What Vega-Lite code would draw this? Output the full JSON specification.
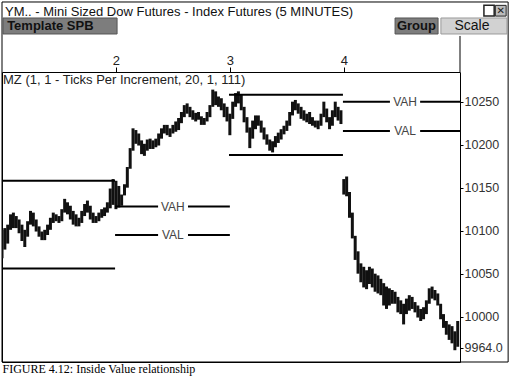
{
  "$schema": "https://vega.github.io/schema/vega-lite/v6.json",
  "width": 458,
  "height": 290,
  "autosize": {"type": "none"},
  "padding": {"left": 2, "top": 72, "right": 62, "bottom": 20},
  "background": "white",
  "config": {"view": {"stroke": "black", "strokeWidth": 1}},
  "datasets": {
    "bars": [
      {"i":0,"h":10101,"l":10068},{"i":1,"h":10103,"l":10078},{"i":2,"h":10107,"l":10085},{"i":3,"h":10119,"l":10101},{"i":4,"h":10121,"l":10103},
      {"i":5,"h":10117,"l":10103},{"i":6,"h":10113,"l":10097},{"i":7,"h":10107,"l":10088},{"i":8,"h":10101,"l":10081},{"i":9,"h":10111,"l":10093},
      {"i":10,"h":10123,"l":10107},{"i":11,"h":10121,"l":10105},{"i":12,"h":10113,"l":10099},{"i":13,"h":10105,"l":10093},{"i":14,"h":10099,"l":10089},
      {"i":15,"h":10101,"l":10089},{"i":16,"h":10107,"l":10095},{"i":17,"h":10115,"l":10101},{"i":18,"h":10121,"l":10109},{"i":19,"h":10119,"l":10111},
      {"i":20,"h":10117,"l":10109},{"i":21,"h":10125,"l":10111},{"i":22,"h":10137,"l":10121},{"i":23,"h":10133,"l":10119},{"i":24,"h":10129,"l":10113},
      {"i":25,"h":10123,"l":10107},{"i":26,"h":10119,"l":10105},{"i":27,"h":10115,"l":10105},{"i":28,"h":10123,"l":10109},{"i":29,"h":10131,"l":10117},
      {"i":30,"h":10135,"l":10121},{"i":31,"h":10129,"l":10113},{"i":32,"h":10121,"l":10109},{"i":33,"h":10117,"l":10109},{"i":34,"h":10121,"l":10111},
      {"i":35,"h":10125,"l":10115},{"i":36,"h":10127,"l":10117},{"i":37,"h":10133,"l":10121},{"i":38,"h":10149,"l":10126},{"i":39,"h":10160,"l":10130},
      {"i":40,"h":10158,"l":10125},{"i":41,"h":10152,"l":10127},{"i":42,"h":10142,"l":10129},{"i":43,"h":10154,"l":10141},{"i":44,"h":10174,"l":10150},
      {"i":45,"h":10196,"l":10172},{"i":46,"h":10219,"l":10193},{"i":47,"h":10217,"l":10201},{"i":48,"h":10213,"l":10199},{"i":49,"h":10205,"l":10189},
      {"i":50,"h":10201,"l":10187},{"i":51,"h":10206,"l":10193},{"i":52,"h":10207,"l":10195},{"i":53,"h":10205,"l":10195},{"i":54,"h":10207,"l":10197},
      {"i":55,"h":10213,"l":10199},{"i":56,"h":10219,"l":10207},{"i":57,"h":10223,"l":10213},{"i":58,"h":10223,"l":10211},{"i":59,"h":10219,"l":10209},
      {"i":60,"h":10223,"l":10213},{"i":61,"h":10227,"l":10215},{"i":62,"h":10231,"l":10217},{"i":63,"h":10238,"l":10225},{"i":64,"h":10246,"l":10232},
      {"i":65,"h":10248,"l":10236},{"i":66,"h":10244,"l":10232},{"i":67,"h":10240,"l":10229},{"i":68,"h":10237,"l":10227},{"i":69,"h":10238,"l":10229},
      {"i":70,"h":10233,"l":10223},{"i":71,"h":10231,"l":10223},{"i":72,"h":10238,"l":10227},{"i":73,"h":10246,"l":10232},{"i":74,"h":10264,"l":10244},
      {"i":75,"h":10262,"l":10246},{"i":76,"h":10256,"l":10244},{"i":77,"h":10254,"l":10240},{"i":78,"h":10248,"l":10232},{"i":79,"h":10244,"l":10227},
      {"i":80,"h":10236,"l":10211},{"i":81,"h":10250,"l":10230},{"i":82,"h":10260,"l":10244},{"i":83,"h":10262,"l":10248},{"i":84,"h":10258,"l":10240},
      {"i":85,"h":10244,"l":10226},{"i":86,"h":10232,"l":10214},{"i":87,"h":10220,"l":10196},{"i":88,"h":10228,"l":10207},{"i":89,"h":10234,"l":10218},
      {"i":90,"h":10234,"l":10222},{"i":91,"h":10228,"l":10214},{"i":92,"h":10220,"l":10206},{"i":93,"h":10212,"l":10200},{"i":94,"h":10206,"l":10193},
      {"i":95,"h":10204,"l":10191},{"i":96,"h":10210,"l":10197},{"i":97,"h":10214,"l":10202},{"i":98,"h":10218,"l":10206},{"i":99,"h":10222,"l":10212},
      {"i":100,"h":10228,"l":10216},{"i":101,"h":10238,"l":10222},{"i":102,"h":10250,"l":10234},{"i":103,"h":10252,"l":10240},{"i":104,"h":10248,"l":10236},
      {"i":105,"h":10244,"l":10230},{"i":106,"h":10240,"l":10228},{"i":107,"h":10236,"l":10226},{"i":108,"h":10238,"l":10224},{"i":109,"h":10232,"l":10222},
      {"i":110,"h":10228,"l":10220},{"i":111,"h":10228,"l":10218},{"i":112,"h":10236,"l":10222},{"i":113,"h":10250,"l":10232},{"i":114,"h":10242,"l":10226},
      {"i":115,"h":10232,"l":10218},{"i":116,"h":10240,"l":10222},{"i":117,"h":10250,"l":10232},{"i":118,"h":10244,"l":10228},{"i":119,"h":10240,"l":10224},
      {"i":120,"h":10160,"l":10142},{"i":121,"h":10163,"l":10140},{"i":122,"h":10145,"l":10115},{"i":123,"h":10121,"l":10091},{"i":124,"h":10094,"l":10066},
      {"i":125,"h":10076,"l":10050},{"i":126,"h":10062,"l":10040},{"i":127,"h":10058,"l":10034},{"i":128,"h":10054,"l":10032},{"i":129,"h":10058,"l":10038},
      {"i":130,"h":10056,"l":10034},{"i":131,"h":10050,"l":10029},{"i":132,"h":10048,"l":10027},{"i":133,"h":10044,"l":10025},{"i":134,"h":10039,"l":10013},
      {"i":135,"h":10035,"l":10009},{"i":136,"h":10033,"l":10013},{"i":137,"h":10031,"l":10015},{"i":138,"h":10029,"l":10015},{"i":139,"h":10023,"l":10005},
      {"i":140,"h":10019,"l":10003},{"i":141,"h":10015,"l":9991},{"i":142,"h":10021,"l":10003},{"i":143,"h":10025,"l":10007},{"i":144,"h":10023,"l":10009},
      {"i":145,"h":10017,"l":10005},{"i":146,"h":10013,"l":9999},{"i":147,"h":10009,"l":9995},{"i":148,"h":10011,"l":9997},{"i":149,"h":10019,"l":10003},
      {"i":150,"h":10033,"l":10015},{"i":151,"h":10035,"l":10021},{"i":152,"h":10031,"l":10019},{"i":153,"h":10027,"l":10013},{"i":154,"h":10015,"l":9997},
      {"i":155,"h":10003,"l":9987},{"i":156,"h":9995,"l":9979},{"i":157,"h":9991,"l":9973},{"i":158,"h":9989,"l":9969},{"i":159,"h":9983,"l":9961},
      {"i":160,"h":9995,"l":9965}
    ],
    "va": [
      {"a":0,"b":39.7,"v":10158},{"a":0,"b":39.7,"v":10056},
      {"a":39.7,"b":54.8,"v":10128},{"a":65.3,"b":80,"v":10128},
      {"a":39.7,"b":54.8,"v":10095},{"a":65.3,"b":80,"v":10095},
      {"a":79.7,"b":119.7,"v":10258},{"a":79.7,"b":119.7,"v":10188},
      {"a":119.7,"b":136.2,"v":10250},{"a":146.8,"b":160.8,"v":10250},
      {"a":119.7,"b":136.2,"v":10216},{"a":146.8,"b":160.8,"v":10216}
    ],
    "lbl": [
      {"i":60,"v":10128,"t":"VAH"},{"i":60,"v":10095,"t":"VAL"},
      {"i":141.5,"v":10250,"t":"VAH"},{"i":141.5,"v":10216,"t":"VAL"}
    ],
    "one": [{}]
  },
  "layer": [
    {
      "data": {"name": "one"},
      "mark": {"type": "rect", "filled": false, "stroke": "black", "strokeWidth": 1},
      "encoding": {
        "x": {"datum": 0, "type": "quantitative", "scale": {"domain": [0, 160.8], "nice": false, "zero": false}, "axis": null},
        "x2": {"datum": 177.7},
        "y": {"datum": 9947.3, "type": "quantitative", "scale": {"domain": [9947.3, 10284.5], "nice": false, "zero": false}, "axis": null},
        "y2": {"datum": 10365.9}
      }
    },
    {
      "data": {"name": "one"},
      "mark": {"type": "text", "text": "YM.. - Mini Sized Dow Futures - Index Futures (5 MINUTES)", "align": "left", "baseline": "middle", "font": "Liberation Sans", "fontSize": 13, "color": "#111"},
      "encoding": {
        "x": {"datum": 1.05, "type": "quantitative", "axis": null},
        "y": {"datum": 10354.3, "type": "quantitative", "axis": null}
      }
    },
    {
      "data": {"name": "one"},
      "mark": {"type": "rect", "filled": false, "stroke": "#222222", "strokeWidth": 1.5},
      "encoding": {
        "x": {"datum": 169.2, "type": "quantitative", "axis": null},
        "x2": {"datum": 172.8},
        "y": {"datum": 10349.5, "type": "quantitative", "axis": null},
        "y2": {"datum": 10362}
      }
    },
    {
      "data": {"name": "one"},
      "mark": {"type": "rect", "fill": "#bbbbbb", "stroke": "#222222", "strokeWidth": 1},
      "encoding": {
        "x": {"datum": 173.2, "type": "quantitative", "axis": null},
        "x2": {"datum": 177.0},
        "y": {"datum": 10349.5, "type": "quantitative", "axis": null},
        "y2": {"datum": 10362}
      }
    },
    {
      "data": {"name": "one"},
      "mark": {"type": "text", "text": "✕", "align": "center", "baseline": "middle", "font": "DejaVu Sans", "fontSize": 10, "color": "#222"},
      "encoding": {
        "x": {"datum": 175.1, "type": "quantitative", "axis": null},
        "y": {"datum": 10355.7, "type": "quantitative", "axis": null}
      }
    },
    {
      "data": {"name": "one"},
      "mark": {"type": "rect", "fill": "#7d7d7d", "stroke": "#555555", "strokeWidth": 1},
      "encoding": {
        "x": {"datum": 0.35, "type": "quantitative", "axis": null},
        "x2": {"datum": 40.4},
        "y": {"datum": 10328.7, "type": "quantitative", "axis": null},
        "y2": {"datum": 10347.3}
      }
    },
    {
      "data": {"name": "one"},
      "mark": {"type": "rect", "fill": "#7d7d7d", "stroke": "#555555", "strokeWidth": 1},
      "encoding": {
        "x": {"datum": 138.0, "type": "quantitative", "axis": null},
        "x2": {"datum": 153.1},
        "y": {"datum": 10328.7, "type": "quantitative", "axis": null},
        "y2": {"datum": 10347.3}
      }
    },
    {
      "data": {"name": "one"},
      "mark": {"type": "rect", "fill": "#d2d2d2", "stroke": "#9a9a9a", "strokeWidth": 1},
      "encoding": {
        "x": {"datum": 154.1, "type": "quantitative", "axis": null},
        "x2": {"datum": 177.3},
        "y": {"datum": 10328.7, "type": "quantitative", "axis": null},
        "y2": {"datum": 10347.3}
      }
    },
    {
      "data": {"name": "one"},
      "mark": {"type": "text", "text": "Template  SPB", "align": "left", "baseline": "middle", "font": "Liberation Sans", "fontSize": 13, "fontWeight": "bold", "color": "#111"},
      "encoding": {
        "x": {"datum": 1.8, "type": "quantitative", "axis": null},
        "y": {"datum": 10338, "type": "quantitative", "axis": null}
      }
    },
    {
      "data": {"name": "one"},
      "mark": {"type": "text", "text": "Group", "align": "center", "baseline": "middle", "font": "Liberation Sans", "fontSize": 13, "fontWeight": "bold", "color": "#111"},
      "encoding": {
        "x": {"datum": 145.5, "type": "quantitative", "axis": null},
        "y": {"datum": 10338, "type": "quantitative", "axis": null}
      }
    },
    {
      "data": {"name": "one"},
      "mark": {"type": "text", "text": "Scale", "align": "center", "baseline": "middle", "font": "Liberation Sans", "fontSize": 14, "color": "#111"},
      "encoding": {
        "x": {"datum": 165, "type": "quantitative", "axis": null},
        "y": {"datum": 10338, "type": "quantitative", "axis": null}
      }
    },
    {
      "data": {"name": "one"},
      "mark": {"type": "rule", "color": "black", "strokeWidth": 1},
      "encoding": {
        "x": {"datum": 160.8, "type": "quantitative", "axis": null},
        "y": {"datum": 10284.5, "type": "quantitative", "axis": null},
        "y2": {"datum": 10326.4}
      }
    },
    {
      "data": {"name": "bars"},
      "mark": {"type": "rule", "color": "#111111", "strokeWidth": 3, "clip": true},
      "encoding": {
        "x": {"field": "i", "type": "quantitative", "scale": {"domain": [0, 160.8], "nice": false, "zero": false},
          "axis": {"orient": "top", "values": [40, 80, 120], "labelExpr": "datum.value == 40 ? '2' : datum.value == 80 ? '3' : '4'", "title": null, "grid": false, "domain": false, "tickColor": "black", "tickSize": 5, "tickWidth": 1, "labelFont": "Liberation Sans", "labelFontSize": 13, "labelColor": "#222", "labelPadding": 0, "labelAngle": 0}},
        "y": {"field": "l", "type": "quantitative", "scale": {"domain": [9947.3, 10284.5], "nice": false, "zero": false},
          "axis": {"orient": "right", "values": [9964, 10000, 10050, 10100, 10150, 10200, 10250], "labelExpr": "datum.value == 9964 ? '9964.0' : format(datum.value, 'd')", "title": null, "grid": false, "domain": false, "tickColor": "black", "tickSize": 3, "labelFont": "Liberation Sans", "labelFontSize": 12.5, "labelColor": "#333", "labelPadding": 1}},
        "y2": {"field": "h"}
      }
    },
    {
      "data": {"name": "va"},
      "mark": {"type": "rule", "color": "black", "strokeWidth": 2},
      "encoding": {
        "x": {"field": "a", "type": "quantitative",
          "axis": {"orient": "bottom", "title": "FIGURE 4.12: Inside Value relationship", "labels": false, "ticks": false, "domain": false, "grid": false, "titleFont": "Liberation Serif", "titleFontSize": 12, "titleFontWeight": "normal", "titleColor": "black", "titleAnchor": "start", "titleAlign": "left", "titleBaseline": "top", "titlePadding": 1}},
        "x2": {"field": "b"},
        "y": {"field": "v", "type": "quantitative", "axis": null}
      }
    },
    {
      "data": {"name": "lbl"},
      "mark": {"type": "text", "align": "center", "baseline": "middle", "font": "Liberation Sans", "fontSize": 12, "color": "#444"},
      "encoding": {
        "x": {"field": "i", "type": "quantitative", "axis": null},
        "y": {"field": "v", "type": "quantitative", "axis": null},
        "text": {"field": "t"}
      }
    },
    {
      "data": {"name": "one"},
      "mark": {"type": "text", "text": "MZ (1, 1 - Ticks Per Increment, 20, 1, 111)", "align": "left", "baseline": "middle", "font": "Liberation Sans", "fontSize": 13, "color": "#222"},
      "encoding": {
        "x": {"datum": 0.35, "type": "quantitative", "axis": null},
        "y": {"datum": 10275, "type": "quantitative", "axis": null}
      }
    }
  ],
  "resolve": {"axis": {"x": "independent", "y": "independent"}}
}
